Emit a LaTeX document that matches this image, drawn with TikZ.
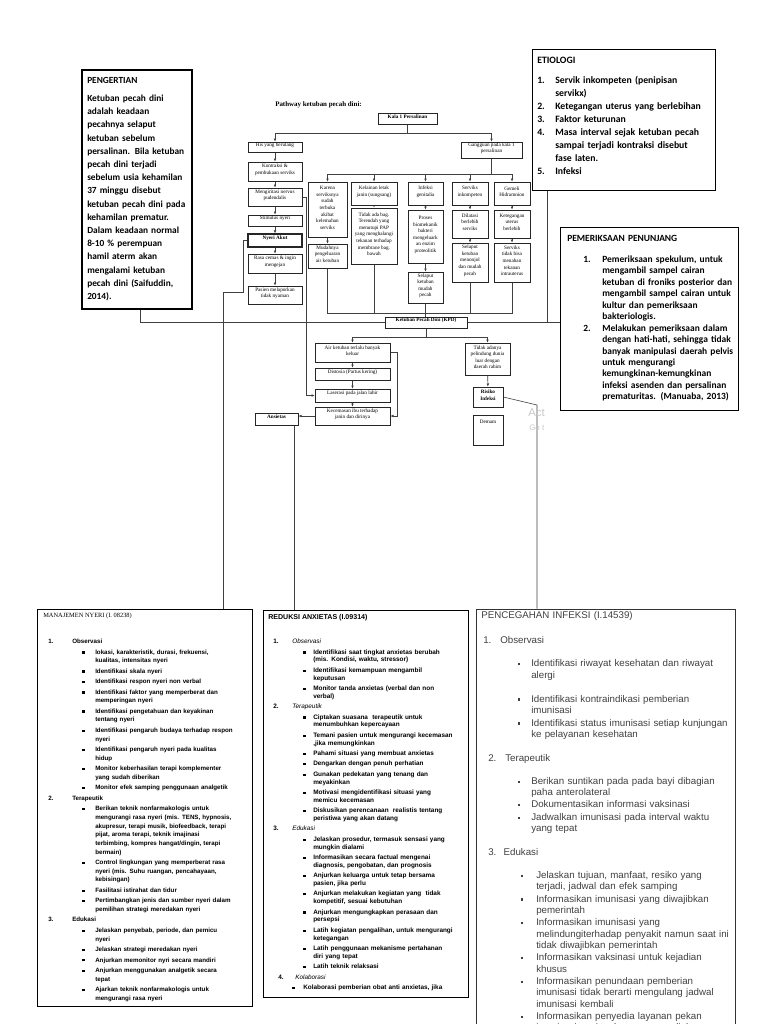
\documentclass[tikz,border=0pt]{standalone}
\usepackage{fontspec}
\setmainfont{Liberation Serif}
\newfontfamily\calfont{Carlito}
\newfontfamily\arfont{Liberation Sans}
\usetikzlibrary{arrows.meta,backgrounds,fit}

\newcommand\bu[1][\G]{\par\vspace{#1}\hangindent=\BB\hangafter=1\noindent\hspace*{\BA}\makebox[\dimexpr\BB-\BA\relax][l]{\rule[\BR]{\BS}{\BS}}\ignorespaces}
\newcommand\hd[2][\G]{\par\vspace{#1}\noindent\hspace*{\HA}\makebox[\HB][l]{#2}\ignorespaces}
\newcommand\nitem[1]{\par\hangindent=\BB\hangafter=1\noindent\hspace*{\HA}\makebox[\dimexpr\BB-\HA\relax][l]{#1}\ignorespaces}
\newcommand\nl{\newline}
\newcommand\PB[7][]{\node[pb,#1,fit={(#3,#4)(#5,#6)}] (#2) {#7};}

\begin{document}
\begin{tikzpicture}[x=0.75pt,y=-0.75pt]
\tikzset{
 pb/.style={draw=black!85, line width=0.45pt, fill=white, inner sep=0pt, align=center, font=\fontsize{3.9}{4.9}\selectfont},
 ln/.style={draw=black!75, line width=0.45pt},
 arr/.style={ln, -{Latex[length=2.4pt,width=2pt]}},
 tbox/.style={draw=black, line width=0.75pt, inner sep=0pt},
 txt/.style={anchor=north west, inner sep=0pt, align=left},
}
\path[use as bounding box] (0,0) rectangle (768,1024);

% ---------- text boxes ----------
\node[tbox, line width=1pt, fit={(82,70)(192,309)}] (peng) {};
\node[txt, text width=84pt, font=\calfont\bfseries\fontsize{7}{9.9}\selectfont] (pengt) at (87,76.9)
{PENGERTIAN\\[3.75pt]
Ketuban pecah dini\\ adalah keadaan\\ pecahnya selaput\\ ketuban sebelum\\ persalinan. Bila ketuban\\ pecah dini terjadi\\ sebelum usia kehamilan\\ 37 minggu disebut\\ ketuban pecah dini pada\\ kehamilan prematur.\\ Dalam keadaan normal\\ 8-10 \% perempuan\\ hamil aterm akan\\ mengalami ketuban\\ pecah dini (Saifuddin,\\ 2014).};

\node[tbox, fit={(532,50)(715,190)}] (eti) {};
\node[txt, text width=132pt, font=\calfont\bfseries\fontsize{7.3}{9.75}\selectfont] (etit) at (537,56.9)
{\def\HA{0pt}\def\BB{13.5pt}%
ETIOLOGI\par\vspace{5.4pt}
\nitem{1.}Servik inkompeten (penipisan\nl servikx)
\nitem{2.}Ketegangan uterus yang berlebihan
\nitem{3.}Faktor keturunan
\nitem{4.}Masa interval sejak ketuban pecah\nl sampai terjadi kontraksi disebut\nl fase laten.
\nitem{5.}Infeksi\par};

\node[tbox, fit={(560,227)(738,410)}] (pem) {};
\node[txt, text width=130pt, font=\calfont\bfseries\fontsize{7.1}{8.6}\selectfont] (pemt) at (567,235)
{\def\HA{12pt}\def\BB{26.25pt}%
PEMERIKSAAN PENUNJANG\par\vspace{7pt}
\nitem{1.}Pemeriksaan spekulum, untuk\nl mengambil sampel cairan\nl ketuban di froniks posterior dan\nl mengambil sampel cairan untuk\nl kultur dan pemeriksaan\nl bakteriologis.
\nitem{2.}Melakukan pemeriksaan dalam\nl dengan hati-hati, sehingga tidak\nl banyak manipulasi daerah pelvis\nl untuk mengurangi\nl kemungkinan-kemungkinan\nl infeksi asenden dan persalinan\nl prematuritas. (Manuaba, 2013)\par};

% ---------- pathway ----------
\node[anchor=west, inner sep=0pt, font=\bfseries\fontsize{5.2}{6.5}\selectfont] (ptitle) at (275,105) {Pathway ketuban pecah dini:};
\PB{kala}{378}{113}{437}{124}{\textbf{Kala 1 Persalinan}}
\PB{his}{248}{142}{302}{152}{His yang berulang}
\PB{kon}{248}{162}{302}{181}{Kontraksi \&\\pembukaan serviks}
\PB{meng}{248}{188}{302}{206}{Mengiritasi nervus\\pudendalis}
\PB{stim}{248}{215}{302}{226}{Stimulus nyeri}
\PB[line width=0.8pt]{nyeri}{248}{234}{302}{247}{\textbf{Nyeri Akut}}
\PB{rasa}{248}{254}{302}{273}{Rasa cemas \& ingin\\mengejan}
\PB{pas}{248}{286}{302}{304}{Pasien melaporkan\\tidak nyaman}
\PB{gang}{461}{142}{522}{158}{Gangguan pada kala 1\\persalinan}
\PB{c1a}{308}{182}{347}{237}{Karena\\serviksnya\\sudah\\terbuka\\akibat\\kelemahan\\serviks}
\PB{c1b}{308}{244}{347}{268}{Mudahnya\\pengeluaran\\air ketuban}
\PB{c2a}{351}{182}{397}{205}{Kelainan letak\\janin (sungsang)}
\PB{c2b}{351}{208}{397}{264}{Tidak ada bag.\\Terendah yang\\menutupi PAP\\yang menghalangi\\tekanan terhadap\\membrane bag.\\bawah}
\PB{c3a}{408}{182}{443}{205}{Infeksi\\genitalia}
\PB{c3b}{408}{210}{443}{263}{Proses\\biomekanik\\bakteri\\mengeluark\\an enzim\\proteolitik}
\PB{c3c}{408}{272}{443}{303}{Selaput\\ketuban\\mudah\\pecah}
\PB{c4a}{452}{182}{488}{205}{Serviks\\inkompeten}
\PB{c4b}{452}{210}{488}{238}{Dilatasi\\berlebih\\serviks}
\PB{c4c}{452}{243}{488}{282}{Selaput\\ketuban\\menonjol\\dan mudah\\pecah}
\PB{c5a}{494}{182}{530}{205}{Gemeli\\Hidramnion}
\PB{c5b}{494}{210}{530}{238}{Ketegangan\\uterus\\berlebih}
\PB{c5c}{494}{243}{530}{282}{Serviks\\tidak bisa\\menahan\\tekanan\\intrauterus}
\PB{kpd}{385}{317}{467}{328}{\textbf{Ketuban Pecah Dini (KPD)}}
\PB{air}{315}{343}{390}{362}{Air ketuban terlalu banyak\\keluar}
\PB{dis}{315}{368}{390}{380}{Distosia (Partus kering)}
\PB{las}{315}{389}{390}{402}{Laserasi pada jalan lahir}
\PB{kec}{315}{407}{390}{425}{Kecemasan ibu terhadap\\janin dan dirinya}
\PB{ans}{255}{413}{298}{425}{\textbf{Ansietas}}
\PB{tid}{465}{343}{510}{375}{Tidak adanya\\pelindung dunia\\luar dengan\\daerah rahim}
\PB{ris}{473}{387}{503}{407}{\textbf{Risiko}\\\textbf{Infeksi}}
\PB{dem}{473}{415}{503}{445}{Demam\\\mbox{}\\\mbox{}}

\node[anchor=west, inner sep=0pt, text=black!22, font=\arfont\fontsize{8.5}{9}\selectfont] (act) at (528,413) {Act};
\node[anchor=west, inner sep=0pt, text=black!22, font=\arfont\fontsize{6}{7}\selectfont] (got) at (529,428) {Go t};

% ---------- lower boxes ----------
\node[tbox, line width=0.6pt, fit={(37,609)(252,1006)}] (man) {};
\node[txt, font=\fontsize{4.8}{6}\selectfont] (mant) at (43,612.9) {MANAJEMEN NYERI (I. 08238)};
\node[txt, text width=165pt, font=\arfont\bfseries\fontsize{4.65}{6.5}\selectfont] (manl) at (43,634.7)
{\def\G{1.35pt}\def\HA{3.75pt}\def\HB{18pt}\def\BA{29.25pt}\def\BB{39pt}\def\BR{0.45pt}\def\BS{1.7pt}%
\hd[0pt]{1.}Observasi
\bu lokasi, karakteristik, durasi, frekuensi,\nl kualitas, intensitas nyeri
\bu Identifikasi skala nyeri
\bu Identifikasi respon nyeri non verbal
\bu Identifikasi faktor yang memperberat dan\nl memperingan nyeri
\bu Identifikasi pengetahuan dan keyakinan\nl tentang nyeri
\bu Identifikasi pengaruh budaya terhadap respon\nl nyeri
\bu Identifikasi pengaruh nyeri pada kualitas\nl hidup
\bu Monitor keberhasilan terapi komplementer\nl yang sudah diberikan
\bu Monitor efek samping penggunaan analgetik
\hd{2.}Terapeutik
\bu Berikan teknik nonfarmakologis untuk\nl mengurangi rasa nyeri (mis. TENS, hypnosis,\nl akupresur, terapi musik, biofeedback, terapi\nl pijat, aroma terapi, teknik imajinasi\nl terbimbing, kompres hangat/dingin, terapi\nl bermain)
\bu Control lingkungan yang memperberat rasa\nl nyeri (mis. Suhu ruangan, pencahayaan,\nl kebisingan)
\bu Fasilitasi istirahat dan tidur
\bu Pertimbangkan jenis dan sumber nyeri dalam\nl pemilihan strategi meredakan nyeri
\hd{3.}Edukasi
\bu Jelaskan penyebab, periode, dan pemicu\nl nyeri
\bu Jelaskan strategi meredakan nyeri
\bu Anjurkan memonitor nyri secara mandiri
\bu Anjurkan menggunakan analgetik secara\nl tepat
\bu Ajarkan teknik nonfarmakologis untuk\nl mengurangi rasa nyeri\par};

\node[tbox, line width=0.6pt, fit={(263,610)(468,997)}] (red) {};
\node[txt, font=\arfont\bfseries\fontsize{5.3}{6}\selectfont] (redt) at (268,614.3) {REDUKSI ANXIETAS (I.09314)};
\node[txt, text width=160pt, font=\arfont\bfseries\fontsize{4.8}{5.85}\selectfont] (redl) at (268,635.7)
{\def\G{1.95pt}\def\HA{3.75pt}\def\HB{14.25pt}\def\BA{26.25pt}\def\BB{33.75pt}\def\BR{0.45pt}\def\BS{1.7pt}%
\hd[0pt]{1.}\textit{\mdseries Observasi}
\bu Identifikasi saat tingkat anxietas berubah\nl (mis. Kondisi, waktu, stressor)
\bu Identifikasi kemampuan mengambil\nl keputusan
\bu Monitor tanda anxietas (verbal dan non\nl verbal)
\hd{2.}\textit{\mdseries Terapeutik}
\bu Ciptakan suasana\ \ terapeutik untuk\nl menumbuhkan kepercayaan
\bu Temani pasien untuk mengurangi kecemasan\nl ,jika memungkinkan
\bu Pahami situasi yang membuat anxietas
\bu Dengarkan dengan penuh perhatian
\bu Gunakan pedekatan yang tenang dan\nl meyakinkan
\bu Motivasi mengidentifikasi situasi yang\nl memicu kecemasan
\bu Diskusikan perencanaan\ \ realistis tentang\nl peristiwa yang akan datang
\hd{3.}\textit{\mdseries Edukasi}
\bu Jelaskan prosedur, termasuk sensasi yang\nl mungkin dialami
\bu Informasikan secara factual mengenai\nl diagnosis, pengobatan, dan prognosis
\bu Anjurkan keluarga untuk tetap bersama\nl pasien, jika perlu
\bu Anjurkan melakukan kegiatan yang\ \ tidak\nl kompetitif, sesuai kebutuhan
\bu Anjurkan mengungkapkan perasaan dan\nl persepsi
\bu Latih kegiatan pengalihan, untuk mengurangi\nl ketegangan
\bu Latih penggunaan mekanisme pertahanan\nl diri yang tepat
\bu Latih teknik relaksasi
\def\HA{7.5pt}\def\HB{12.75pt}%
\hd{4.}\textit{\mdseries Kolaborasi}
\def\BA{18pt}\def\BB{26.25pt}%
\bu Kolaborasi pemberian obat anti anxietas, jika\par};

\node[tbox, line width=0.6pt, draw=black!80, fit={(476,609)(735,1045)}] (pen) {};
\node[txt, text width=190pt, text=black!75, font=\arfont\fontsize{7.3}{8.5}\selectfont] (penl) at (481,611.5)
{\def\G{0.75pt}\def\HA{1.5pt}\def\HB{12.75pt}\def\BA{27.75pt}\def\BB{37.5pt}\def\BR{1.1pt}\def\BS{1.6pt}%
PENCEGAHAN INFEKSI (I.14539)
\hd[10.3pt]{1.}Observasi
\bu[8.8pt]Identifikasi riwayat kesehatan dan riwayat\nl alergi
\bu[9.3pt]Identifikasi kontraindikasi pemberian\nl imunisasi
\bu[1pt]Identifikasi status imunisasi setiap kunjungan\nl ke pelayanan kesehatan
\def\HA{5.25pt}%
\hd[9.3pt]{2.}Terapeutik
\bu[8.8pt]Berikan suntikan pada pada bayi dibagian\nl paha anterolateral
\bu Dokumentasikan informasi vaksinasi
\bu Jadwalkan imunisasi pada interval waktu\nl yang tepat
\def\HB{11.5pt}%
\hd[9.4pt]{3.}Edukasi
\def\BA{30pt}\def\BB{41.25pt}%
\bu[8.8pt]Jelaskan tujuan, manfaat, resiko yang\nl terjadi, jadwal dan efek samping
\bu Informasikan imunisasi yang diwajibkan\nl pemerintah
\bu Informasikan imunisasi yang\nl melindungiterhadap penyakit namun saat ini\nl tidak diwajibkan pemerintah
\bu Informasikan vaksinasi untuk kejadian\nl khusus
\bu Informasikan penundaan pemberian\nl imunisasi tidak berarti mengulang jadwal\nl imunisasi kembali
\bu Informasikan penyedia layanan pekan\nl imunisasi nasional yang menyediakan\nl vaksin gratis\par};

% ---------- helper coordinates ----------
\coordinate (kb) at (407,133);
\coordinate (gb) at (492,174);
\coordinate (mb) at (327,313);
\coordinate (kb2) at (426,337);
\coordinate (pl) at (140,322);
\coordinate (el) at (547,322);
\coordinate (n1) at (243,292);
\coordinate (n2) at (223,292);
\coordinate (rp) at (537,405);
\coordinate (ap) at (294,425);

% ---------- connectors ----------
\begin{scope}[on background layer]
\draw[ln] (kala.south) -- (kala.south |- kb);
\draw[arr] (kala.south |- kb) -| (his.north);
\draw[arr] (kala.south |- kb) -| (gang.north);
\draw[arr] (his) -- (kon);
\draw[arr] (kon) -- (meng);
\draw[arr] (meng) -- (stim);
\draw[arr] (stim) -- (nyeri);
\draw[arr] (nyeri) -- (rasa);
\draw[arr] (rasa) -- (pas);
\draw[ln] (gang.south) -- (gang.south |- gb);
\foreach \cc in {c1a,c2a,c3a,c4a,c5a} \draw[arr] (gang.south |- gb) -| (\cc.north);
\draw[arr] (c1a) -- (c1b);
\draw[arr] (c2a) -- (c2b);
\draw[arr] (c3a) -- (c3b);
\draw[arr] (c3b) -- (c3c);
\draw[arr] (c4a) -- (c4b);
\draw[arr] (c4b) -- (c4c);
\draw[arr] (c5a) -- (c5b);
\draw[arr] (c5b) -- (c5c);
\draw[ln] (c1b.south) |- (c5c.south |- mb) -- (c5c.south);
\draw[ln] (c2b.south) -- (c2b.south |- mb);
\draw[ln] (c4c.south) -- (c4c.south |- mb);
\draw[ln] (c3c.south) -- (c3c.south |- kpd.north);
\draw[ln] (kpd.south) -- (kpd.south |- kb2);
\draw[arr] (kpd.south |- kb2) -| (air.north);
\draw[arr] (kpd.south |- kb2) -| (tid.north);
\draw[arr] (air) -- (dis);
\draw[arr] (dis) -- (las);
\draw[arr] (las) -- (kec);
\draw[arr] (air.east) -- ++(7,0) |- (kec.east);
\draw[arr] (meng.east) -- ++(4,0) |- (las.west);
\draw[arr] (kec.west) -- (kec.west -| ans.east);
\draw[arr] (tid) -- (ris);
\draw[ln] (ris.east) -- (rp) -- (rp |- pen.north);
\draw[ln] (ans.south -| ap) -- (ap |- red.north);
\draw[ln] (nyeri.west) -| (n1) -- (n2) -- (n2 |- man.north);
\draw[ln] (peng.south -| pl) -- (pl) -- (pl -| pem.west);
\draw[ln] (eti.south -| el) -- (el);
\end{scope}
\end{tikzpicture}
\end{document}
